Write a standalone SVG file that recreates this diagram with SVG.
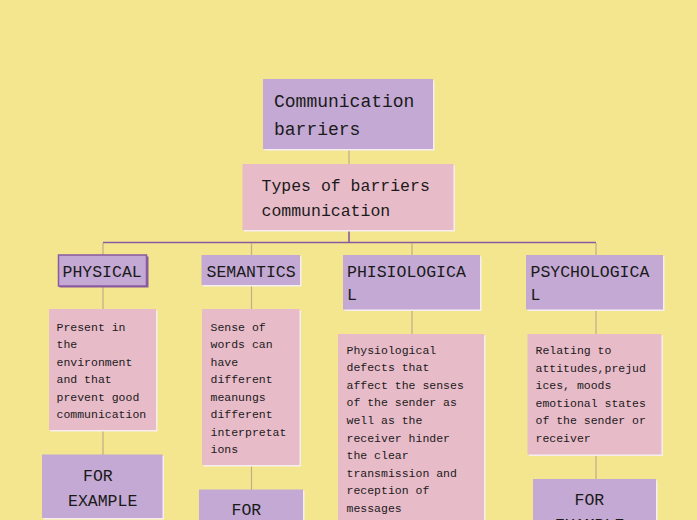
<svg xmlns="http://www.w3.org/2000/svg" width="697" height="520" viewBox="0 0 697 520">
<style>
.bg{fill:#f3e68f}
.pu{fill:#c3a9d3}
.pk{fill:#e8bbc9}
.hl{fill:#f7eef2}
.sel{fill:#c3a9d3;stroke:#8a5aa0;stroke-width:1.5}
.selsh{fill:#8a5aa0}
.t{font-family:"Liberation Mono","DejaVu Sans Mono",monospace;fill:#1a1a1a}
.big{font-size:18px}
.h{font-size:16.5px}
.d{font-size:11.5px}
.tan{stroke:#c4aa88;stroke-width:1.2;fill:none}
.bus{stroke:#8a5aa0;stroke-width:1.6;fill:none}
</style>
<rect class="bg" x="0" y="0" width="697" height="520"/>
<g id="connectors">
<line class="tan" x1="349" y1="150" x2="349" y2="164"/>
<line class="bus" x1="349" y1="230" x2="349" y2="242.5"/>
<line class="bus" x1="103" y1="242.5" x2="596" y2="242.5"/>
<line class="tan" x1="103" y1="243" x2="103" y2="255"/>
<line class="tan" x1="251.5" y1="243" x2="251.5" y2="255"/>
<line class="tan" x1="412" y1="243" x2="412" y2="255"/>
<line class="tan" x1="596" y1="243" x2="596" y2="255"/>
<line class="tan" x1="103" y1="287" x2="103" y2="309"/>
<line class="tan" x1="251.5" y1="286" x2="251.5" y2="309"/>
<line class="tan" x1="412" y1="311" x2="412" y2="334"/>
<line class="tan" x1="596" y1="311" x2="596" y2="334"/>
<line class="tan" x1="103" y1="431" x2="103" y2="455"/>
<line class="tan" x1="251.5" y1="466" x2="251.5" y2="490"/>
<line class="tan" x1="596" y1="456" x2="596" y2="479"/>
</g>
<g id="root">
<rect class="hl" x="264.5" y="80.5" width="170" height="70"/>
<rect class="pu" x="263" y="79" width="170" height="70"/>
<text class="t big" x="274" y="107">Communication</text>
<text class="t big" x="274" y="135">barriers</text>
</g>
<g id="types">
<rect class="hl" x="244" y="165.5" width="211" height="66"/>
<rect class="pk" x="242.5" y="164" width="211" height="66"/>
<text class="t h" x="261.5" y="191">Types of barriers</text>
<text class="t h" x="261.5" y="215.5">communication</text>
</g>
<g id="physical">
<rect class="selsh" x="59.5" y="256.5" width="89" height="31"/>
<rect class="sel" x="58.5" y="255" width="88" height="31"/>
<text class="t h" x="62.5" y="276.5">PHYSICAL</text>
</g>
<g id="semantics">
<rect class="hl" x="203" y="256.5" width="98.5" height="30"/>
<rect class="pu" x="201.5" y="255" width="98.5" height="30"/>
<text class="t h" x="206.5" y="276.5">SEMANTICS</text>
</g>
<g id="phisiological">
<rect class="hl" x="344.5" y="256.5" width="137" height="54.5"/>
<rect class="pu" x="343" y="255" width="137" height="54.5"/>
<text class="t h" x="347" y="277">PHISIOLOGICA</text>
<text class="t h" x="347" y="300">L</text>
</g>
<g id="psychological">
<rect class="hl" x="527.5" y="256.5" width="137" height="54.5"/>
<rect class="pu" x="526" y="255" width="137" height="54.5"/>
<text class="t h" x="530.5" y="277">PSYCHOLOGICA</text>
<text class="t h" x="530.5" y="300">L</text>
</g>
<g id="physical-desc">
<rect class="hl" x="50.5" y="310.5" width="107" height="121"/>
<rect class="pk" x="49" y="309" width="107" height="121"/>
<text class="t d" x="56.5" y="330.5">Present in</text>
<text class="t d" x="56.5" y="348">the</text>
<text class="t d" x="56.5" y="365.5">environment</text>
<text class="t d" x="56.5" y="383">and that</text>
<text class="t d" x="56.5" y="400.5">prevent good</text>
<text class="t d" x="56.5" y="418">communication</text>
</g>
<g id="semantics-desc">
<rect class="hl" x="203.5" y="310.5" width="97.5" height="156"/>
<rect class="pk" x="202" y="309" width="97.5" height="156"/>
<text class="t d" x="210.5" y="330.5">Sense of</text>
<text class="t d" x="210.5" y="348">words can</text>
<text class="t d" x="210.5" y="365.5">have</text>
<text class="t d" x="210.5" y="383">different</text>
<text class="t d" x="210.5" y="400.5">meanungs</text>
<text class="t d" x="210.5" y="418">different</text>
<text class="t d" x="210.5" y="435.5">interpretat</text>
<text class="t d" x="210.5" y="453">ions</text>
</g>
<g id="phisiological-desc">
<rect class="hl" x="339.5" y="335.5" width="146" height="200"/>
<rect class="pk" x="338" y="334" width="146" height="200"/>
<text class="t d" x="346.5" y="353.5">Physiological</text>
<text class="t d" x="346.5" y="371">defects that</text>
<text class="t d" x="346.5" y="388.5">affect the senses</text>
<text class="t d" x="346.5" y="406">of the sender as</text>
<text class="t d" x="346.5" y="423.5">well as the</text>
<text class="t d" x="346.5" y="441.5">receiver hinder</text>
<text class="t d" x="346.5" y="459">the clear</text>
<text class="t d" x="346.5" y="476.5">transmission and</text>
<text class="t d" x="346.5" y="494">reception of</text>
<text class="t d" x="346.5" y="511.5">messages</text>
</g>
<g id="psychological-desc">
<rect class="hl" x="529" y="335.5" width="134" height="120.5"/>
<rect class="pk" x="527.5" y="334" width="134" height="120.5"/>
<text class="t d" x="535.5" y="354">Relating to</text>
<text class="t d" x="535.5" y="371.5">attitudes,prejud</text>
<text class="t d" x="535.5" y="389">ices, moods</text>
<text class="t d" x="535.5" y="406.5">emotional states</text>
<text class="t d" x="535.5" y="424">of the sender or</text>
<text class="t d" x="535.5" y="441.5">receiver</text>
</g>
<g id="physical-example">
<rect class="hl" x="43.5" y="456" width="120.5" height="63.5"/>
<rect class="pu" x="42" y="454.5" width="120.5" height="63.5"/>
<text class="t h" x="83" y="480.5">FOR</text>
<text class="t h" x="68" y="506">EXAMPLE</text>
</g>
<g id="semantics-example">
<rect class="hl" x="200.5" y="491" width="104" height="40"/>
<rect class="pu" x="199" y="489.5" width="104" height="40"/>
<text class="t h" x="231.5" y="515">FOR</text>
</g>
<g id="psychological-example">
<rect class="hl" x="534.5" y="480.5" width="123" height="50"/>
<rect class="pu" x="533" y="479" width="123" height="50"/>
<text class="t h" x="574.5" y="505">FOR</text>
<text class="t h" x="555" y="530">EXAMPLE</text>
</g>
</svg>
